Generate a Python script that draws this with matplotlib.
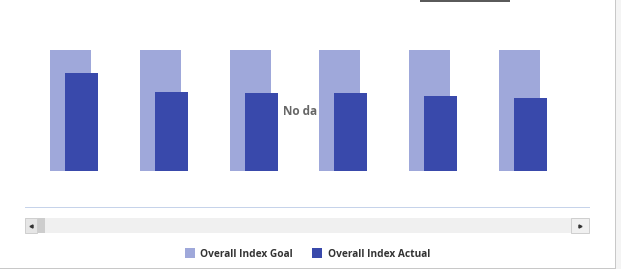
import numpy as np
import matplotlib.pyplot as plt
from matplotlib.patches import Rectangle
plt.rc("font", family=['Open Sans', 'DejaVu Sans'], size=8)

# data
categories = ['1', '2', '3', '4', '5', '6']
goal = [100, 100, 100, 100, 100, 100]
actual = [81, 65, 64.5, 64.5, 62, 60]
series_names = ['Overall Index Goal', 'Overall Index Actual']
colors = ['#9fa8da', '#3949ab']

W, H = 621, 269
px = 0.72  # one pixel line width in points
fig = plt.figure(figsize=(W / 100, H / 100), dpi=100)
fig.patch.set_facecolor('white')

# background / frame drawing in pixel coords (y down)
bg = fig.add_axes([0, 0, 1, 1])
bg.set_xlim(0, W)
bg.set_ylim(H, 0)
bg.axis('off')
bg.add_patch(Rectangle((614.5, 0), W - 614.5, H, facecolor='#f4f4f4', edgecolor='none'))
bg.plot([614.5, 614.5], [0, 268], color='#c8c8c8', lw=px)
bg.plot([0, 614.5], [267.5, 267.5], color='#c8c8c8', lw=px)
# tooltip edge at the top
bg.add_patch(Rectangle((420, -3), 90, 5, facecolor='#5a5a5a', edgecolor='none'))
# axis line under plot
bg.plot([25, 589], [206.5, 206.5], color='#c6d3ea', lw=px)
# scrollbar
bg.add_patch(Rectangle((25, 218), 564, 15, facecolor='#f0f0f0', edgecolor='none'))
bg.add_patch(Rectangle((37, 218), 8, 15, facecolor='#cdcdcd', edgecolor='none'))
bg.add_patch(Rectangle((24.5, 218), 12.5, 15, facecolor='#e6e6e6', edgecolor='#cfcfcf', lw=px))
bg.add_patch(Rectangle((571, 218), 18, 15, facecolor='#f0f0f0', edgecolor='#cfcfcf', lw=px))
bg.plot([31], [225.5], marker='<', color='#333333', ms=2.2)
bg.plot([580], [225.5], marker='>', color='#333333', ms=2.2)
bg.text(283, 111.5, 'No da', color='#666666', fontsize=8.5, fontweight='bold',
        ha='left', va='center', zorder=0)

# bars
ax = fig.add_axes([25 / W, (H - 171) / H, 564 / W, 121 / H])
ax.patch.set_alpha(0)
pitch = 89.8
ax.set_xlim((25 - 76) / pitch, (589 - 76) / pitch)
ax.set_ylim(0, 100)
x = np.arange(len(categories))
ax.bar(x - 0.061, goal, width=0.457, color=colors[0], label=series_names[0], zorder=2)
ax.bar(x + 0.061, actual, width=0.367, color=colors[1], label=series_names[1], zorder=3)
ax.axis('off')

leg = ax.legend(loc='center', bbox_to_anchor=(307.5 / W, (H - 254) / H),
                bbox_transform=fig.transFigure, ncol=2, frameon=False,
                handlelength=1.0, handleheight=1.0, handletextpad=0.55,
                columnspacing=1.9, prop={'weight': 'bold', 'size': 7.3})
for t in leg.get_texts():
    t.set_color('#333333')

fig.savefig('out.png', dpi=100)
